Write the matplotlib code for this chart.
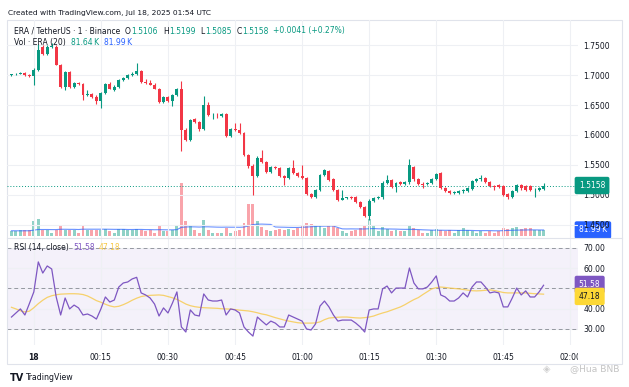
import matplotlib.pyplot as plt
import matplotlib.transforms as mtransforms
import numpy as np
from matplotlib.lines import Line2D
from matplotlib.patches import Rectangle

plt.rcParams['font.family'] = ['DejaVu Sans']

# 1-minute candles, 23:55 -> 01:54 (minutes from 00:00)
minutes = np.arange(-5, 115)

opens = [1.700, 1.701, 1.702, 1.704, 1.700, 1.698, 1.709, 1.747, 1.735, 1.747,
         1.747, 1.717, 1.680, 1.705, 1.680, 1.686, 1.685, 1.667, 1.668, 1.664,
         1.657, 1.670, 1.685, 1.675, 1.680, 1.692, 1.695, 1.700, 1.702, 1.707,
         1.688, 1.686, 1.684, 1.677, 1.655, 1.663, 1.657, 1.667, 1.677, 1.609,
         1.592, 1.627, 1.622, 1.610, 1.650, 1.633, 1.634, 1.632, 1.635, 1.598,
         1.610, 1.608, 1.603, 1.567, 1.548, 1.532, 1.562, 1.555, 1.538, 1.547,
         1.545, 1.532, 1.528, 1.545, 1.537, 1.532, 1.528, 1.502, 1.497, 1.508,
         1.533, 1.540, 1.526, 1.508, 1.492, 1.495, 1.496, 1.497, 1.488, 1.480,
         1.465, 1.490, 1.495, 1.496, 1.520, 1.525, 1.513, 1.521, 1.518, 1.521,
         1.547, 1.526, 1.519, 1.518, 1.520, 1.527, 1.537, 1.512, 1.507, 1.504,
         1.504, 1.506, 1.507, 1.510, 1.523, 1.526, 1.528, 1.522, 1.515, 1.516,
         1.515, 1.502, 1.497, 1.507, 1.517, 1.515, 1.515, 1.508, 1.509, 1.5106]
highs = [1.702, 1.703, 1.705, 1.705, 1.701, 1.712, 1.752, 1.750, 1.750, 1.753,
         1.750, 1.719, 1.707, 1.707, 1.688, 1.688, 1.687, 1.675, 1.670, 1.666,
         1.671, 1.687, 1.688, 1.683, 1.694, 1.697, 1.702, 1.705, 1.720, 1.709,
         1.693, 1.692, 1.686, 1.679, 1.665, 1.665, 1.669, 1.679, 1.690, 1.612,
         1.627, 1.629, 1.624, 1.665, 1.655, 1.637, 1.637, 1.637, 1.637, 1.612,
         1.620, 1.620, 1.605, 1.569, 1.551, 1.565, 1.575, 1.557, 1.549, 1.549,
         1.547, 1.534, 1.547, 1.558, 1.539, 1.550, 1.530, 1.504, 1.510, 1.535,
         1.544, 1.542, 1.528, 1.510, 1.508, 1.497, 1.498, 1.499, 1.490, 1.482,
         1.493, 1.497, 1.499, 1.524, 1.533, 1.527, 1.522, 1.523, 1.523, 1.560,
         1.549, 1.528, 1.521, 1.522, 1.529, 1.537, 1.539, 1.514, 1.509, 1.506,
         1.508, 1.510, 1.514, 1.525, 1.528, 1.533, 1.530, 1.524, 1.517, 1.518,
         1.517, 1.504, 1.509, 1.519, 1.519, 1.517, 1.517, 1.511, 1.514, 1.5199]
lows = [1.699, 1.700, 1.701, 1.699, 1.697, 1.684, 1.707, 1.733, 1.733, 1.745,
        1.716, 1.679, 1.675, 1.679, 1.678, 1.684, 1.658, 1.665, 1.662, 1.652,
        1.645, 1.668, 1.676, 1.673, 1.678, 1.690, 1.693, 1.698, 1.700, 1.687,
        1.685, 1.683, 1.676, 1.653, 1.653, 1.655, 1.648, 1.665, 1.573, 1.590,
        1.590, 1.620, 1.607, 1.608, 1.631, 1.627, 1.628, 1.630, 1.596, 1.596,
        1.606, 1.601, 1.565, 1.545, 1.500, 1.530, 1.553, 1.536, 1.536, 1.543,
        1.530, 1.517, 1.526, 1.535, 1.530, 1.526, 1.500, 1.495, 1.495, 1.506,
        1.531, 1.523, 1.506, 1.490, 1.491, 1.493, 1.494, 1.486, 1.478, 1.463,
        1.458, 1.488, 1.493, 1.494, 1.518, 1.511, 1.505, 1.516, 1.516, 1.519,
        1.524, 1.516, 1.512, 1.516, 1.518, 1.525, 1.510, 1.505, 1.501, 1.502,
        1.502, 1.504, 1.505, 1.508, 1.521, 1.524, 1.520, 1.513, 1.508, 1.512,
        1.498, 1.494, 1.495, 1.505, 1.509, 1.506, 1.506, 1.497, 1.507, 1.5085]
closes = [1.701, 1.702, 1.704, 1.700, 1.698, 1.709, 1.742, 1.735, 1.747, 1.748,
          1.717, 1.680, 1.705, 1.680, 1.686, 1.685, 1.667, 1.668, 1.664, 1.657,
          1.670, 1.685, 1.677, 1.680, 1.692, 1.695, 1.700, 1.702, 1.707, 1.688,
          1.686, 1.684, 1.677, 1.655, 1.663, 1.657, 1.667, 1.677, 1.609, 1.592,
          1.625, 1.622, 1.610, 1.650, 1.633, 1.634, 1.633, 1.635, 1.598, 1.610,
          1.608, 1.603, 1.567, 1.548, 1.532, 1.562, 1.555, 1.538, 1.547, 1.545,
          1.532, 1.528, 1.545, 1.537, 1.532, 1.528, 1.502, 1.497, 1.508, 1.533,
          1.542, 1.525, 1.508, 1.492, 1.495, 1.496, 1.495, 1.488, 1.480, 1.465,
          1.490, 1.495, 1.497, 1.520, 1.525, 1.513, 1.520, 1.518, 1.521, 1.550,
          1.526, 1.518, 1.517, 1.520, 1.527, 1.535, 1.512, 1.507, 1.503, 1.504,
          1.506, 1.508, 1.512, 1.523, 1.526, 1.528, 1.522, 1.515, 1.514, 1.514,
          1.500, 1.497, 1.507, 1.517, 1.511, 1.508, 1.508, 1.509, 1.512, 1.5158]

# volume in thousands
volumes = [63, 63, 76, 80, 76, 200, 220, 84, 76, 42,
           76, 135, 84, 76, 84, 42, 135, 76, 84, 84,
           76, 92, 63, 42, 92, 92, 84, 84, 92, 76,
           63, 84, 50, 126, 63, 63, 84, 126, 670, 190,
           147, 76, 50, 210, 84, 50, 50, 42, 105, 50,
           63, 76, 168, 405, 405, 190, 118, 84, 63, 84,
           92, 84, 92, 76, 105, 126, 168, 160, 126, 147,
           105, 126, 147, 105, 63, 42, 63, 84, 105, 126,
           220, 126, 63, 118, 92, 63, 84, 63, 63, 126,
           105, 84, 50, 42, 76, 92, 84, 63, 76, 42,
           84, 105, 76, 63, 50, 63, 50, 63, 42, 63,
           105, 92, 105, 118, 92, 105, 105, 84, 76, 81.64]
vol_ma = [72, 72, 71, 72, 72, 80, 88, 88, 88, 87,
          87, 91, 91, 90, 90, 88, 92, 92, 92, 92,
          92, 92, 91, 90, 90, 90, 88, 88, 89, 89,
          87, 87, 85, 86, 85, 84, 84, 86, 115, 120,
          122, 121, 119, 122, 122, 120, 118, 117, 118, 117,
          117, 116, 119, 134, 150, 155, 156, 154, 152, 120,
          118, 117, 115, 114, 114, 116, 119, 123, 126, 129,
          130, 131, 133, 113, 96, 95, 96, 95, 95, 95,
          98, 100, 97, 96, 95, 94, 93, 91, 90, 90,
          89, 87, 84, 82, 80, 79, 79, 78, 78, 77,
          76, 77, 77, 76, 74, 74, 74, 74, 72, 72,
          74, 76, 78, 80, 81, 82, 83, 83, 82, 81.99]

rsi = [35.9, 37.9, 39.9, 36.9, 42.5, 48.3, 63.1, 57.6, 61.1, 59.6,
       45.8, 36.9, 45.3, 39.9, 41.8, 40.4, 36.9, 37.4, 36.4, 34.9,
       39.9, 45.8, 43.3, 44.3, 50.7, 52.7, 53.2, 54.7, 55.5, 47.8,
       46.8, 45.3, 42.3, 36.4, 40.4, 37.9, 42.8, 48.3, 31.0, 28.5,
       39.4, 36.9, 36.4, 47.3, 44.3, 43.8, 43.8, 44.3, 36.9, 39.9,
       39.4, 37.9, 31.0, 28.5, 26.5, 35.9, 33.9, 32.0, 33.9, 32.9,
       31.0, 31.0, 36.9, 35.9, 34.9, 33.9, 30.0, 29.5, 32.5, 41.3,
       43.8, 40.9, 36.9, 33.9, 34.4, 34.4, 34.4, 32.9, 31.0, 28.5,
       39.4, 39.9, 39.9, 49.8, 51.2, 47.8, 50.2, 50.2, 50.2, 60.1,
       52.7, 49.8, 49.8, 50.7, 53.2, 56.2, 46.8, 45.8, 43.8, 43.8,
       45.3, 47.8, 45.8, 50.7, 53.2, 53.2, 50.7, 47.8, 48.3, 47.8,
       40.9, 40.9, 45.3, 50.2, 46.8, 48.8, 45.8, 45.8, 48.3, 51.58]
rsi_ma = [40.7, 39.9, 39.0, 38.4, 38.8, 40.5, 42.5, 44.2, 45.6, 46.4,
          46.9, 47.2, 47.3, 47.4, 47.4, 47.3, 47.0, 46.3, 45.2, 44.0,
          43.2, 42.2, 41.4, 40.9, 41.2, 42.0, 43.0, 44.2, 45.2, 46.0,
          46.4, 46.6, 46.7, 46.8, 46.6, 46.0, 45.4, 44.6, 43.5, 42.3,
          41.5, 41.0, 40.7, 40.5, 40.4, 40.3, 40.2, 40.0, 39.9, 39.8,
          39.6, 39.3, 39.1, 38.9, 38.5, 38.0, 37.4, 37.0, 36.3, 35.6,
          35.0, 34.4, 33.9, 33.5, 33.1, 32.9, 32.9, 32.9, 33.0, 33.5,
          34.6, 35.4, 35.6, 35.8, 35.9, 35.9, 35.7, 35.5, 35.4, 35.6,
          35.9, 36.4, 37.2, 37.9, 38.5, 39.3, 40.1, 40.9, 42.0, 43.3,
          44.5, 45.5, 47.0, 48.4, 49.8, 50.4, 50.7, 50.5, 50.2, 50.0,
          49.8, 49.5, 49.2, 48.9, 48.8, 48.9, 49.1, 49.3, 49.0, 48.5,
          48.0, 47.8, 47.8, 47.8, 47.8, 47.8, 47.6, 47.4, 47.3, 47.18]

price_ticks = [1.45, 1.50, 1.55, 1.60, 1.65, 1.70, 1.75]
rsi_ticks = [30, 40, 50, 60, 70]
time_ticks = [0, 15, 30, 45, 60, 75, 90, 105, 120]
time_labels = ['18', '00:15', '00:30', '00:45', '01:00', '01:15', '01:30', '01:45', '02:00']

GREEN = '#089981'
RED = '#F23645'
TEXT = '#131722'
GRID = '#eef0f4'
PURPLE = '#7E57C2'
YELLOW = '#F7C948'
BLUE = '#2962FF'
FS = 5.5

W, H = 629, 387
fig = plt.figure(figsize=(W / 100, H / 100), dpi=100)


def box(x0, y0, x1, y1):
    return [x0 / W, 1 - y1 / H, (x1 - x0) / W, (y1 - y0) / H]


ax = fig.add_axes(box(7, 20, 578, 238))
axv = ax.twinx()
axr = fig.add_axes(box(7, 238, 578, 345), sharex=ax)
ax.set_zorder(axv.get_zorder() + 1)
ax.patch.set_visible(False)

o = np.array(opens)
c = np.array(closes)
up = c >= o
cols = np.where(up, GREEN, RED)

# candles
ax.vlines(minutes, lows, highs, colors=cols, lw=0.8, zorder=3)
body = np.maximum(np.abs(c - o), 0.0009)
ax.bar(minutes, body, bottom=np.minimum(o, c), width=0.66, color=cols, lw=0, zorder=4)
ax.axhline(closes[-1], color=GREEN, ls=(0, (1, 2)), lw=0.7, zorder=2)

# volume
axv.bar(minutes, volumes, width=0.66, color=cols, alpha=0.45, lw=0)
axv.plot(minutes, vol_ma, color=BLUE, lw=0.8, alpha=0.7)
axv.set_ylim(-19, 2728)
axv.set_yticks([])

ax.set_xlim(-6.0, 121.7)
ax.set_ylim(1.4283, 1.7917)
ax.set_yticks(price_ticks)
ax.set_yticklabels([f'{v:.4f}' for v in price_ticks])
ax.yaxis.tick_right()
ax.tick_params(axis='y', length=0, pad=3.8, labelsize=FS, labelcolor=TEXT)
ax.tick_params(axis='x', length=0, labelbottom=False)
ax.set_xticks(time_ticks)
ax.grid(True, color=GRID, lw=0.8)

# RSI pane
axr.axhspan(30, 70, color=PURPLE, alpha=0.08, lw=0)
for lvl in (70, 50, 30):
    axr.axhline(lvl, color='#9598a1', ls=(0, (4, 3)), lw=0.7)
axr.plot(minutes, rsi_ma, color=YELLOW, lw=0.9, alpha=0.8)
axr.plot(minutes, rsi, color=PURPLE, lw=0.9)
axr.set_ylim(22.1, 74.9)
axr.set_yticks(rsi_ticks)
# 50.00 sits behind the value boxes, as in the reference
axr.set_yticklabels(['' if v == 50 else f'{v:.2f}' for v in rsi_ticks])
axr.yaxis.tick_right()
axr.tick_params(axis='y', length=0, pad=3.8, labelsize=FS, labelcolor=TEXT)
axr.set_xticks(time_ticks)
axr.set_xticklabels(time_labels)
axr.tick_params(axis='x', length=0, pad=5.5, labelsize=FS, labelcolor=TEXT)
axr.grid(True, color=GRID, lw=0.8)
labs = axr.get_xticklabels()
labs[0].set_fontweight('bold')
labs[-1].set_clip_box(mtransforms.Bbox.from_extents(0, 0, 578, H))
labs[-1].set_clip_on(True)

for a in (ax, axv, axr):
    for s in a.spines.values():
        s.set_visible(False)

# right-axis value boxes
bx = dict(boxstyle='round,pad=0.55,rounding_size=0.25', ec='none')
tp = mtransforms.blended_transform_factory(ax.transAxes, ax.transData)
ax.text(1.0015, closes[-1], f'{closes[-1]:.4f}', transform=tp, ha='left', va='center',
        color='white', fontsize=FS, bbox=dict(bx, fc=GREEN))
tv = mtransforms.blended_transform_factory(axv.transAxes, axv.transData)
axv.text(1.0015, vol_ma[-1], f'{vol_ma[-1]:.2f}\u2009K', transform=tv, ha='left', va='center',
         color='white', fontsize=FS, bbox=dict(bx, fc=BLUE))
tr = mtransforms.blended_transform_factory(axr.transAxes, axr.transData)
axr.text(1.0015, rsi[-1] + 0.4, f'{rsi[-1]:.2f}', transform=tr, ha='left', va='center',
         color='white', fontsize=FS, bbox=dict(bx, fc=PURPLE))
axr.text(1.0015, rsi_ma[-1] - 1.1, f'{rsi_ma[-1]:.2f}', transform=tr, ha='left', va='center',
         color=TEXT, fontsize=FS, bbox=dict(bx, fc='#FDD835'))


def chain(x, y, parts, size=FS):
    t = fig.text(x / W, 1 - y / H, parts[0][0], color=parts[0][1], fontsize=size,
                 ha='left', va='center')
    for s, col, gap in parts[1:]:
        t = ax.annotate(s, xy=(1, 0.5), xycoords=t, xytext=(gap, 0), textcoords='offset points',
                        color=col, fontsize=size, ha='left', va='center')
    return t


chain(14, 31, [('ERA / TetherUS · 1 · Binance', TEXT),
               ('O', TEXT, 3.5), ('1.5106', GREEN, 0.3),
               ('H', TEXT, 3.5), ('1.5199', GREEN, 0.3),
               ('L', TEXT, 3.5), ('1.5085', GREEN, 0.3),
               ('C', TEXT, 3.5), ('1.5158', GREEN, 0.3),
               ('+0.0041 (+0.27%)', GREEN, 3.5)])
chain(14, 42.5, [('Vol · ERA (20)', TEXT), ('81.64\u2009K', GREEN, 3.5), ('81.99\u2009K', BLUE, 3.5)])
chain(14, 247.5, [('RSI (14, close)', TEXT), ('51.58', PURPLE, 3), ('47.18', YELLOW, 3)])

fig.text(8 / W, 1 - 13 / H, 'Created with TradingView.com, Jul 18, 2025 01:54 UTC',
         fontsize=5.4, color=TEXT, ha='left', va='center')

# frame and separators
fig.add_artist(Rectangle((7 / W, 1 - 364 / H), 615 / W, 344 / H, transform=fig.transFigure,
                         fill=False, ec='#e0e3eb', lw=0.8))
fig.add_artist(Line2D([7 / W, 622 / W], [1 - 238 / H] * 2, color='#e0e3eb', lw=0.8))

fig.text(10 / W, 1 - 378 / H, 'TV', fontsize=7, fontweight='heavy', color=TEXT, ha='left', va='center')
fig.text(25 / W, 1 - 377.5 / H, 'TradingView', fontsize=5.7, color=TEXT, ha='left', va='center')
fig.text(543 / W, 1 - 369 / H, '\u25c8', fontsize=7, color='#cfcfcf', ha='left', va='center')
fig.text(620 / W, 1 - 369 / H, '@Hua BNB', fontsize=6.6, color='#c4c4c4', ha='right', va='center')

fig.savefig('out.png', dpi=100)
